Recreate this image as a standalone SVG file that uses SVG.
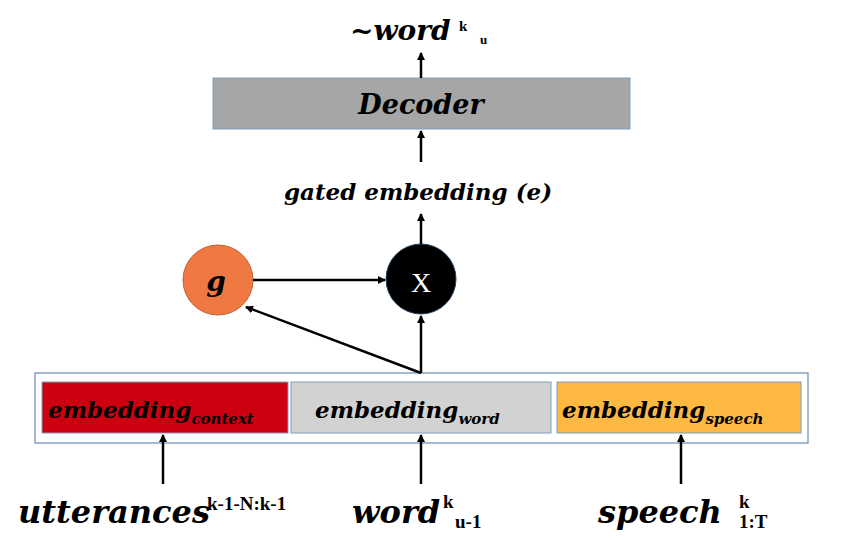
<svg xmlns="http://www.w3.org/2000/svg" width="842" height="540" viewBox="0 0 842 540">
<defs>
<marker id="ah" markerWidth="8" markerHeight="8" refX="7" refY="4" orient="auto" markerUnits="userSpaceOnUse"><path d="M0,0 L8,4 L0,8 Z" fill="#000"/></marker>
<style>
.t{font-family:"DejaVu Serif","Liberation Serif",serif;font-weight:bold;font-style:italic;fill:#000}
.s{font-family:"Liberation Serif",serif;font-weight:bold;fill:#000}
.c{stroke:#000;stroke-width:2.5;fill:none;marker-end:url(#ah)}
</style>
</defs>
<rect width="842" height="540" fill="#fff"/>
<g id="output"><text class="t" x="350" y="40" font-size="28">~word</text><text class="s" x="459" y="31" font-size="15">k</text><text class="s" x="480" y="44" font-size="13">u</text></g>
<g id="decoder"><rect x="213" y="78" width="417" height="51" fill="#a6a6a6" stroke="#7f9fbf" stroke-width="1"/><text class="t" x="421" y="114" font-size="27" text-anchor="middle">Decoder</text></g>
<g id="gated"><text class="t" x="418" y="200" font-size="23" text-anchor="middle">gated embedding (e)</text></g>
<g id="g"><circle cx="218" cy="280" r="35" fill="#f07842" stroke="#c06030" stroke-width="1"/><text class="t" x="216" y="291" font-size="28" text-anchor="middle">g</text></g>
<g id="x"><circle cx="421" cy="279" r="35" fill="#000" stroke="#1f3f5f" stroke-width="1"/><text x="421" y="292" font-family="Liberation Serif,serif" font-size="28" fill="#fff" text-anchor="middle">X</text></g>
<g id="embeddings">
<rect x="35" y="373" width="773" height="70" fill="#fff" stroke="#6a8caf" stroke-width="1.2"/>
<rect x="42" y="382" width="246" height="51" fill="#cc0011" stroke="#7f9fbf"/>
<text class="t" x="48" y="418" font-size="23">embedding<tspan font-size="15" dy="6">context</tspan></text>
<rect x="291" y="382" width="260" height="51" fill="#d2d2d2" stroke="#7f9fbf"/>
<text class="t" x="315" y="418" font-size="23">embedding<tspan font-size="15" dy="6">word</tspan></text>
<rect x="557" y="382" width="244" height="51" fill="#fdb942" stroke="#7f9fbf"/>
<text class="t" x="562" y="418" font-size="23">embedding<tspan font-size="15" dy="6">speech</tspan></text>
</g>
<g id="inputs">
<text class="t" x="18" y="523" font-size="32">utterances</text><text class="s" x="207" y="510" font-size="19">k-1-N:k-1</text>
<text class="t" x="352" y="523" font-size="32">word</text><text class="s" x="443" y="508" font-size="19">k</text><text class="s" x="455" y="528" font-size="19">u-1</text>
<text class="t" x="598" y="523" font-size="32">speech</text><text class="s" x="739" y="508" font-size="19">k</text><text class="s" x="739" y="528" font-size="19">1:T</text>
</g>
<g id="connectors">
<line class="c" x1="421" y1="78" x2="421" y2="53"/>
<line class="c" x1="421" y1="162" x2="421" y2="131"/>
<line class="c" x1="421" y1="244" x2="421" y2="214"/>
<line class="c" x1="253" y1="280" x2="385" y2="280"/>
<line class="c" x1="421" y1="373" x2="421" y2="316"/>
<line class="c" x1="421" y1="373" x2="246" y2="307"/>
<line class="c" x1="163" y1="484" x2="163" y2="435"/>
<line class="c" x1="421" y1="484" x2="421" y2="435"/>
<line class="c" x1="681" y1="484" x2="681" y2="435"/>
</g>
</svg>
